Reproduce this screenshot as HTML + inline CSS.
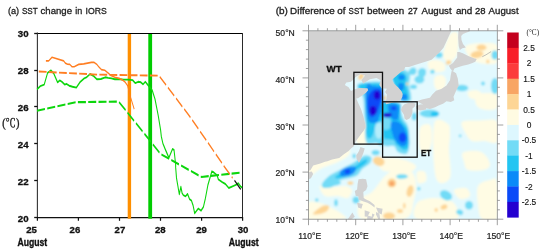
<!DOCTYPE html>
<html><head><meta charset="utf-8"><title>SST change</title>
<style>html,body{margin:0;padding:0;background:#fff;width:550px;height:252px;overflow:hidden}svg{display:block}</style>
</head><body>
<svg width="550" height="252" viewBox="0 0 550 252" font-family="Liberation Sans, Arial, sans-serif">
<defs>
<clipPath id="mapclip"><rect x="308.5" y="30.8" width="188.8" height="188.4"/></clipPath>
<filter id="bl" x="-5%" y="-5%" width="110%" height="110%"><feGaussianBlur stdDeviation="0.9"/></filter>
</defs>
<rect width="550" height="252" fill="#fff"/>
<text x="7.9" y="14.2" font-size="9.4" font-weight="normal" fill="#1c1c1c" stroke="#1c1c1c" stroke-width="0.3" textLength="11.2" lengthAdjust="spacingAndGlyphs">(a)</text><text x="21.9" y="14.2" font-size="9.4" font-weight="normal" fill="#1c1c1c" stroke="#1c1c1c" stroke-width="0.3" textLength="15.8" lengthAdjust="spacingAndGlyphs">SST</text><text x="40.5" y="14.2" font-size="9.4" font-weight="normal" fill="#1c1c1c" stroke="#1c1c1c" stroke-width="0.3" textLength="31.5" lengthAdjust="spacingAndGlyphs">change</text><text x="75.3" y="14.2" font-size="9.4" font-weight="normal" fill="#1c1c1c" stroke="#1c1c1c" stroke-width="0.3" textLength="7.0" lengthAdjust="spacingAndGlyphs">in</text><text x="85.6" y="14.2" font-size="9.4" font-weight="normal" fill="#1c1c1c" stroke="#1c1c1c" stroke-width="0.3" textLength="21.2" lengthAdjust="spacingAndGlyphs">IORS</text><line x1="37.4" y1="33.45" x2="243" y2="33.45" stroke="#000" stroke-width="1.1"/><line x1="242.5" y1="33" x2="242.5" y2="217.6" stroke="#2a2a2a" stroke-width="1"/><line x1="37.4" y1="32.5" x2="37.4" y2="217.6" stroke="#333" stroke-width="1.1"/><line x1="36.9" y1="217.6" x2="243.1" y2="217.6" stroke="#111" stroke-width="1.4"/><rect x="127.7" y="34" width="3.4" height="184.7" fill="#FF8F00"/><rect x="148.3" y="34" width="3.8" height="184.7" fill="#00CC00"/><g transform="scale(1,1.8)"><polyline points="37.00,61.500 75.90,56.778 118.70,56.444 160.80,85.667 201.50,98.333 240.60,95.889" fill="none" stroke="#0CD60C" stroke-width="1.2" stroke-dasharray="8 2.3"/><polyline points="37.00,49.611 40.30,47.889 44.20,47.000 47.60,40.500 50.90,39.111 53.70,40.778 57.60,45.722 59.80,44.667 62.00,45.444 64.80,47.000 66.40,46.556 69.20,47.611 72.60,48.222 76.40,48.667 80.30,45.444 84.20,43.556 86.40,42.944 90.10,41.111 93.70,42.333 97.00,44.056 100.90,43.889 105.30,42.944 108.10,43.278 111.40,43.556 114.80,44.000 118.10,43.889 123.70,44.222 128.10,44.222 132.60,44.500 135.30,46.167 138.10,45.444 140.90,45.722 143.10,46.833 145.30,45.444 147.60,47.000 150.30,48.833 152.20,50.111 155.00,55.056 157.20,61.222 158.30,64.444 160.60,72.222 161.30,75.722 162.90,79.722 165.30,83.000 168.50,87.167 168.90,87.611 172.50,82.778 174.00,83.222 174.80,87.167 175.60,91.333 175.70,93.278 176.50,98.889 177.70,102.833 179.30,107.944 180.90,103.722 182.10,107.278 183.30,108.389 185.60,109.056 187.60,107.722 189.50,110.611 191.50,111.500 193.10,114.167 194.70,118.500 198.30,115.833 201.00,117.056 203.40,115.000 205.40,110.167 206.60,106.667 207.90,102.778 211.90,95.167 213.90,95.833 217.10,97.389 218.30,99.611 222.20,101.167 225.40,102.222 228.80,104.444 233.10,103.389 236.40,102.611 238.30,101.778 240.70,103.667 242.10,104.167" fill="none" stroke="#0CD60C" stroke-width="1.05" stroke-linejoin="round"/><polyline points="37.00,39.667 97.00,41.444 158.90,42.056 168.30,48.889 189.40,64.444 206.10,77.778 224.40,92.611 232.60,98.889" fill="none" stroke="#FF7E22" stroke-width="1.05" stroke-dasharray="7.8 2.3" stroke-dashoffset="-1.8"/><polyline points="45.90,33.833 48.70,33.833 52.00,31.778 63.70,33.833 65.30,35.056 67.60,35.667 69.80,35.778 72.00,37.056 74.20,37.056 78.70,35.778 83.70,35.500 91.40,34.667 94.20,34.667 97.00,35.889 99.20,37.389 101.40,38.667 104.80,39.000 108.10,40.556 110.90,41.944 114.80,42.944 119.20,43.556 122.60,44.500 125.30,45.722 127.60,47.611 129.20,51.111 130.30,53.556 134.20,60.667" fill="none" stroke="#FF7E22" stroke-width="0.9" stroke-linejoin="round"/><line x1="234.5" y1="100.222" x2="240.7" y2="105.222" stroke="#111" stroke-width="1.0"/></g><line x1="34.2" y1="33.5" x2="37.4" y2="33.5" stroke="#111" stroke-width="1.3"/><text x="28.6" y="37.3" font-size="9.7" font-weight="bold" fill="#111" stroke="#111" stroke-width="0.3" text-anchor="end">30</text><line x1="34.2" y1="70.5" x2="37.4" y2="70.5" stroke="#111" stroke-width="1.3"/><text x="28.6" y="74.2" font-size="9.7" font-weight="bold" fill="#111" stroke="#111" stroke-width="0.3" text-anchor="end">28</text><line x1="34.2" y1="106.5" x2="37.4" y2="106.5" stroke="#111" stroke-width="1.3"/><text x="28.6" y="111.1" font-size="9.7" font-weight="bold" fill="#111" stroke="#111" stroke-width="0.3" text-anchor="end">26</text><line x1="34.2" y1="143.5" x2="37.4" y2="143.5" stroke="#111" stroke-width="1.3"/><text x="28.6" y="148.0" font-size="9.7" font-weight="bold" fill="#111" stroke="#111" stroke-width="0.3" text-anchor="end">24</text><line x1="34.2" y1="180.5" x2="37.4" y2="180.5" stroke="#111" stroke-width="1.3"/><text x="28.6" y="184.9" font-size="9.7" font-weight="bold" fill="#111" stroke="#111" stroke-width="0.3" text-anchor="end">22</text><line x1="34.2" y1="217.5" x2="37.4" y2="217.5" stroke="#111" stroke-width="1.3"/><text x="28.6" y="221.8" font-size="9.7" font-weight="bold" fill="#111" stroke="#111" stroke-width="0.3" text-anchor="end">20</text><line x1="37.4" y1="217.6" x2="37.4" y2="220.8" stroke="#111" stroke-width="1.2"/><text x="31.5" y="233.2" font-size="9.6" font-weight="bold" fill="#111" stroke="#111" stroke-width="0.3" text-anchor="middle">25</text><line x1="78.4" y1="217.6" x2="78.4" y2="220.8" stroke="#111" stroke-width="1.2"/><text x="74.9" y="233.2" font-size="9.6" font-weight="bold" fill="#111" stroke="#111" stroke-width="0.3" text-anchor="middle">26</text><line x1="119.5" y1="217.6" x2="119.5" y2="220.8" stroke="#111" stroke-width="1.2"/><text x="119.9" y="233.2" font-size="9.6" font-weight="bold" fill="#111" stroke="#111" stroke-width="0.3" text-anchor="middle">27</text><line x1="160.5" y1="217.6" x2="160.5" y2="220.8" stroke="#111" stroke-width="1.2"/><text x="160.3" y="233.2" font-size="9.6" font-weight="bold" fill="#111" stroke="#111" stroke-width="0.3" text-anchor="middle">28</text><line x1="201.6" y1="217.6" x2="201.6" y2="220.8" stroke="#111" stroke-width="1.2"/><text x="201.6" y="233.2" font-size="9.6" font-weight="bold" fill="#111" stroke="#111" stroke-width="0.3" text-anchor="middle">29</text><line x1="242.6" y1="217.6" x2="242.6" y2="220.8" stroke="#111" stroke-width="1.2"/><text x="243.1" y="233.2" font-size="9.6" font-weight="bold" fill="#111" stroke="#111" stroke-width="0.3" text-anchor="middle">30</text><text x="17.4" y="245.6" font-size="10.2" font-weight="bold" fill="#111" stroke="#111" stroke-width="0.35" textLength="29.8" lengthAdjust="spacingAndGlyphs">August</text><text x="228.8" y="245.6" font-size="10.2" font-weight="bold" fill="#111" stroke="#111" stroke-width="0.35" textLength="29.8" lengthAdjust="spacingAndGlyphs">August</text><text x="2.2" y="127.4" font-size="11.5" fill="#1a1a1a" stroke="#1a1a1a" stroke-width="0.35" font-family="Liberation Serif, Noto Serif CJK SC, serif" textLength="17.2" lengthAdjust="spacingAndGlyphs">(℃)</text>
<text x="275.7" y="13.9" font-size="9.4" font-weight="normal" fill="#1c1c1c" stroke="#1c1c1c" stroke-width="0.3" textLength="12.2" lengthAdjust="spacingAndGlyphs">(b)</text><text x="290.1" y="13.9" font-size="9.4" font-weight="normal" fill="#1c1c1c" stroke="#1c1c1c" stroke-width="0.3" textLength="44.7" lengthAdjust="spacingAndGlyphs">Difference</text><text x="337.3" y="13.9" font-size="9.4" font-weight="normal" fill="#1c1c1c" stroke="#1c1c1c" stroke-width="0.3" textLength="8.2" lengthAdjust="spacingAndGlyphs">of</text><text x="348.6" y="13.9" font-size="9.4" font-weight="normal" fill="#1c1c1c" stroke="#1c1c1c" stroke-width="0.3" textLength="15.5" lengthAdjust="spacingAndGlyphs">SST</text><text x="367.0" y="13.9" font-size="9.4" font-weight="normal" fill="#1c1c1c" stroke="#1c1c1c" stroke-width="0.3" textLength="37.1" lengthAdjust="spacingAndGlyphs">between</text><text x="407.9" y="13.9" font-size="9.4" font-weight="normal" fill="#1c1c1c" stroke="#1c1c1c" stroke-width="0.3" textLength="9.8" lengthAdjust="spacingAndGlyphs">27</text><text x="421.5" y="13.9" font-size="9.4" font-weight="normal" fill="#1c1c1c" stroke="#1c1c1c" stroke-width="0.3" textLength="30.1" lengthAdjust="spacingAndGlyphs">August</text><text x="455.9" y="13.9" font-size="9.4" font-weight="normal" fill="#1c1c1c" stroke="#1c1c1c" stroke-width="0.3" textLength="16.4" lengthAdjust="spacingAndGlyphs">and</text><text x="475.0" y="13.9" font-size="9.4" font-weight="normal" fill="#1c1c1c" stroke="#1c1c1c" stroke-width="0.3" textLength="10.6" lengthAdjust="spacingAndGlyphs">28</text><text x="488.6" y="13.9" font-size="9.4" font-weight="normal" fill="#1c1c1c" stroke="#1c1c1c" stroke-width="0.3" textLength="30.0" lengthAdjust="spacingAndGlyphs">August</text><g clip-path="url(#mapclip)"><rect x="308.5" y="30.8" width="188.8" height="188.39999999999998" fill="#FFFBE3"/><g filter="url(#bl)"><rect x="300" y="25" width="205" height="200" fill="#E3F9FE"/><path d="M449.0,36.0C450.3,33.7 451.5,32.3 453.0,32.0C454.5,31.7 457.2,31.0 458.0,34.0C458.8,37.0 458.5,46.0 458.0,50.0C457.5,54.0 456.7,56.0 455.0,58.0C453.3,60.0 450.0,62.3 448.0,62.0C446.0,61.7 443.5,58.7 443.0,56.0C442.5,53.3 444.0,49.3 445.0,46.0C446.0,42.7 447.7,38.3 449.0,36.0Z" fill="#FFFCE4"/><path d="M466.0,46.0C468.2,44.2 474.8,43.2 480.0,43.0C485.2,42.8 494.2,41.8 497.0,45.0C499.8,48.2 499.0,58.8 497.0,62.0C495.0,65.2 489.2,64.3 485.0,64.0C480.8,63.7 475.0,61.7 472.0,60.0C469.0,58.3 468.0,56.3 467.0,54.0C466.0,51.7 463.8,47.8 466.0,46.0Z" fill="#FFFCE4"/><path d="M468.0,92.0C469.0,90.7 473.7,89.7 476.0,90.0C478.3,90.3 481.7,92.5 482.0,94.0C482.3,95.5 480.0,98.3 478.0,99.0C476.0,99.7 471.7,99.2 470.0,98.0C468.3,96.8 467.0,93.3 468.0,92.0Z" fill="#FFFCE4"/><path d="M428.0,62.0C429.0,60.3 433.3,59.8 436.0,60.0C438.7,60.2 442.5,61.3 444.0,63.0C445.5,64.7 446.0,68.5 445.0,70.0C444.0,71.5 440.5,72.0 438.0,72.0C435.5,72.0 431.7,71.7 430.0,70.0C428.3,68.3 427.0,63.7 428.0,62.0Z" fill="#FFFCE4"/><path d="M435.0,77.0C436.3,75.5 440.2,74.5 442.0,75.0C443.8,75.5 445.7,77.7 446.0,80.0C446.3,82.3 445.5,87.3 444.0,89.0C442.5,90.7 438.7,90.8 437.0,90.0C435.3,89.2 434.3,86.2 434.0,84.0C433.7,81.8 433.7,78.5 435.0,77.0Z" fill="#FFFCE4"/><path d="M476.0,95.0C478.2,92.8 486.5,93.0 490.0,93.0C493.5,93.0 495.8,92.5 497.0,95.0C498.2,97.5 498.8,105.5 497.0,108.0C495.2,110.5 489.3,110.3 486.0,110.0C482.7,109.7 478.7,108.5 477.0,106.0C475.3,103.5 473.8,97.2 476.0,95.0Z" fill="#FFFCE4"/><path d="M462.0,122.0C464.3,119.8 474.2,120.6 480.0,120.5C485.8,120.4 494.2,117.9 497.0,121.5C499.8,125.1 499.0,138.8 497.0,142.0C495.0,145.2 489.2,141.2 485.0,141.0C480.8,140.8 475.2,142.2 472.0,141.0C468.8,139.8 467.7,137.2 466.0,134.0C464.3,130.8 459.7,124.2 462.0,122.0Z" fill="#FFFCE4"/><path d="M434.0,124.0C436.0,115.0 445.3,122.2 448.0,124.0C450.7,125.8 449.8,130.7 450.0,135.0C450.2,139.3 449.0,142.8 449.0,150.0C449.0,157.2 452.2,173.3 450.0,178.0C447.8,182.7 438.7,187.0 436.0,178.0C433.3,169.0 432.0,133.0 434.0,124.0Z" fill="#FFFCE4"/><path d="M463.0,152.5C465.3,150.7 474.2,150.4 478.0,151.0C481.8,151.6 484.0,153.7 486.0,156.0C488.0,158.3 490.3,162.7 490.0,165.0C489.7,167.3 487.7,169.2 484.0,170.0C480.3,170.8 471.3,171.3 468.0,170.0C464.7,168.7 464.8,164.9 464.0,162.0C463.2,159.1 460.7,154.3 463.0,152.5Z" fill="#FFFCE4"/><path d="M417.0,203.0C419.5,199.5 426.8,198.5 432.0,198.0C437.2,197.5 444.0,198.7 448.0,200.0C452.0,201.3 454.7,202.8 456.0,206.0C457.3,209.2 462.5,216.8 456.0,219.0C449.5,221.2 423.5,221.7 417.0,219.0C410.5,216.3 414.5,206.5 417.0,203.0Z" fill="#FFFCE4"/><path d="M478.0,186.0C480.0,181.8 486.8,180.7 490.0,180.0C493.2,179.3 495.8,175.5 497.0,182.0C498.2,188.5 499.5,212.8 497.0,219.0C494.5,225.2 485.2,221.3 482.0,219.0C478.8,216.7 478.7,210.5 478.0,205.0C477.3,199.5 476.0,190.2 478.0,186.0Z" fill="#FFFCE4"/><path d="M454.0,190.0C455.0,188.2 463.3,187.0 466.0,188.0C468.7,189.0 471.0,194.2 470.0,196.0C469.0,197.8 462.7,200.0 460.0,199.0C457.3,198.0 453.0,191.8 454.0,190.0Z" fill="#FFFCE4"/><path d="M417.0,172.0C418.2,170.2 423.5,170.5 425.0,172.0C426.5,173.5 427.2,179.2 426.0,181.0C424.8,182.8 419.5,184.5 418.0,183.0C416.5,181.5 415.8,173.8 417.0,172.0Z" fill="#FFFCE4"/><path d="M308.0,160.0C310.8,156.7 319.2,157.7 325.0,156.0C330.8,154.3 338.8,151.0 343.0,150.0C347.2,149.0 349.2,149.0 350.0,150.0C350.8,151.0 350.3,153.8 348.0,156.0C345.7,158.2 340.3,161.0 336.0,163.0C331.7,165.0 326.0,166.0 322.0,168.0C318.0,170.0 314.3,173.7 312.0,175.0C309.7,176.3 308.7,178.5 308.0,176.0C307.3,173.5 305.2,163.3 308.0,160.0Z" fill="#FFFCE4"/><path d="M360.0,200.0C361.7,195.5 367.8,196.0 372.0,192.0C376.2,188.0 380.8,180.0 385.0,176.0C389.2,172.0 392.8,169.0 397.0,168.0C401.2,167.0 406.8,167.7 410.0,170.0C413.2,172.3 415.3,177.0 416.0,182.0C416.7,187.0 415.8,193.8 414.0,200.0C412.2,206.2 413.7,215.8 405.0,219.0C396.3,222.2 369.5,222.2 362.0,219.0C354.5,215.8 358.3,204.5 360.0,200.0Z" fill="#FFFCE4"/><path d="M378.0,160.0C379.7,158.0 387.5,158.0 392.0,158.0C396.5,158.0 401.0,158.7 405.0,160.0C409.0,161.3 415.2,164.0 416.0,166.0C416.8,168.0 413.5,171.0 410.0,172.0C406.5,173.0 399.7,172.3 395.0,172.0C390.3,171.7 384.8,172.0 382.0,170.0C379.2,168.0 376.3,162.0 378.0,160.0Z" fill="#FFFCE4"/><path d="M320.0,186.0C321.5,184.5 329.8,187.0 334.0,187.0C338.2,187.0 342.0,185.5 345.0,186.0C348.0,186.5 351.5,188.0 352.0,190.0C352.5,192.0 350.3,197.0 348.0,198.0C345.7,199.0 341.8,196.3 338.0,196.0C334.2,195.7 328.0,197.7 325.0,196.0C322.0,194.3 318.5,187.5 320.0,186.0Z" fill="#FFFCE4"/><path d="M308.0,203.0C310.0,200.3 316.0,202.2 320.0,203.0C324.0,203.8 328.3,206.2 332.0,208.0C335.7,209.8 340.0,212.2 342.0,214.0C344.0,215.8 349.7,218.2 344.0,219.0C338.3,219.8 314.0,221.7 308.0,219.0C302.0,216.3 306.0,205.7 308.0,203.0Z" fill="#FFFCE4"/><path d="M357.0,125.0C358.5,122.0 363.2,120.8 365.0,122.0C366.8,123.2 367.7,128.5 368.0,132.0C368.3,135.5 368.3,140.8 367.0,143.0C365.7,145.2 361.8,145.5 360.0,145.0C358.2,144.5 356.5,143.3 356.0,140.0C355.5,136.7 355.5,128.0 357.0,125.0Z" fill="#FFFCE4"/><path d="M420.0,128.0C421.7,123.8 428.0,123.0 430.0,125.0C432.0,127.0 432.3,135.5 432.0,140.0C431.7,144.5 430.0,150.3 428.0,152.0C426.0,153.7 421.3,154.0 420.0,150.0C418.7,146.0 418.3,132.2 420.0,128.0Z" fill="#FFFCE4"/><ellipse cx="481.5" cy="47.5" rx="5" ry="3" fill="#FDD595"/><ellipse cx="477" cy="54.5" rx="6.5" ry="3.5" fill="#FDD595" transform="rotate(-10 477 54.5)"/><ellipse cx="448.8" cy="62.3" rx="2.5" ry="2" fill="#FDD595"/><ellipse cx="487.8" cy="61.5" rx="1.5" ry="2" fill="#FDD595"/><ellipse cx="361" cy="76.7" rx="2.5" ry="3.5" fill="#FDD595" transform="rotate(30 361 76.7)"/><ellipse cx="384.7" cy="98" rx="1.6" ry="2.4" fill="#FDD595"/><ellipse cx="407.8" cy="84.8" rx="1.3" ry="1.3" fill="#FDD595"/><ellipse cx="378.7" cy="161.3" rx="6" ry="4.5" fill="#FDD595" transform="rotate(20 378.7 161.3)"/><ellipse cx="391.8" cy="183.1" rx="4.5" ry="4.5" fill="#FDD595"/><ellipse cx="350.4" cy="183.1" rx="3" ry="1.8" fill="#FDD595"/><ellipse cx="389" cy="216" rx="6" ry="3.5" fill="#FDD595"/><ellipse cx="400" cy="211" rx="3" ry="2" fill="#FDD595"/><ellipse cx="410" cy="191" rx="3.2" ry="6" fill="#FDD595" transform="rotate(15 410 191)"/><ellipse cx="444" cy="207" rx="3.5" ry="2.5" fill="#FDD595" transform="rotate(-20 444 207)"/><ellipse cx="436.2" cy="210" rx="1.7" ry="2" fill="#FDD595"/><ellipse cx="404.3" cy="205.8" rx="1.3" ry="3" fill="#FDD595"/><path d="M313.0,214.0C312.7,213.2 316.2,210.4 318.0,209.0C319.8,207.6 322.2,206.0 324.0,205.5C325.8,205.0 328.5,205.1 329.0,206.0C329.5,206.9 328.5,209.7 327.0,211.0C325.5,212.3 322.3,213.5 320.0,214.0C317.7,214.5 313.3,214.8 313.0,214.0Z" fill="#FDD595"/><ellipse cx="391.8" cy="183.5" rx="2.6" ry="2.6" fill="#F8A564"/><ellipse cx="439" cy="55" rx="3.8" ry="2.8" fill="#72DBF6"/><ellipse cx="412" cy="72" rx="3.5" ry="3" fill="#72DBF6"/><ellipse cx="422.5" cy="71.5" rx="3.5" ry="3" fill="#72DBF6"/><ellipse cx="432.6" cy="71.5" rx="2" ry="2" fill="#72DBF6"/><ellipse cx="495" cy="55" rx="3.5" ry="4.5" fill="#72DBF6"/><ellipse cx="462" cy="88" rx="6.3" ry="3.2" fill="#72DBF6"/><ellipse cx="483" cy="83.6" rx="2" ry="2" fill="#72DBF6"/><ellipse cx="495" cy="86" rx="4" ry="8" fill="#72DBF6"/><ellipse cx="429.5" cy="113.5" rx="10" ry="4" fill="#72DBF6"/><ellipse cx="354.2" cy="156" rx="1.8" ry="2.6" fill="#72DBF6"/><ellipse cx="375.6" cy="152.6" rx="4" ry="2.6" fill="#72DBF6"/><ellipse cx="400" cy="176.6" rx="3" ry="2.2" fill="#72DBF6"/><ellipse cx="332.5" cy="182.6" rx="8.5" ry="3" fill="#72DBF6"/><ellipse cx="356" cy="200" rx="3.5" ry="3.5" fill="#72DBF6"/><ellipse cx="336" cy="202.7" rx="1.8" ry="3.5" fill="#72DBF6"/><ellipse cx="316.8" cy="200" rx="1.7" ry="1.7" fill="#72DBF6"/><ellipse cx="446" cy="195.3" rx="6.5" ry="4.5" fill="#72DBF6" transform="rotate(30 446 195.3)"/><ellipse cx="469" cy="205.3" rx="4" ry="4.3" fill="#72DBF6"/><ellipse cx="459.7" cy="212.3" rx="3.5" ry="2.6" fill="#72DBF6" transform="rotate(20 459.7 212.3)"/><ellipse cx="418.8" cy="188.8" rx="1.7" ry="1.7" fill="#72DBF6"/><ellipse cx="404.7" cy="176.2" rx="1.7" ry="1.7" fill="#72DBF6"/><ellipse cx="460.1" cy="135.9" rx="1.4" ry="1.4" fill="#72DBF6"/><ellipse cx="434.7" cy="114" rx="4" ry="2.6" fill="#22C5F2"/><path d="M322.0,184.0C322.8,182.0 326.3,178.2 329.0,176.0C331.7,173.8 335.3,172.5 338.0,171.0C340.7,169.5 342.5,168.3 345.0,167.0C347.5,165.7 350.7,164.3 353.0,163.0C355.3,161.7 357.0,160.2 359.0,159.0C361.0,157.8 363.0,155.8 365.0,155.5C367.0,155.2 370.2,155.8 371.0,157.0C371.8,158.2 371.5,161.0 370.0,163.0C368.5,165.0 364.2,166.9 362.0,169.0C359.8,171.1 359.5,173.9 357.0,175.5C354.5,177.1 350.2,177.6 347.0,178.5C343.8,179.4 340.3,179.7 338.0,181.0C335.7,182.3 335.3,185.3 333.0,186.5C330.7,187.7 325.8,188.4 324.0,188.0C322.2,187.6 321.2,186.0 322.0,184.0Z" fill="#72DBF6"/><path d="M335.0,177.0C335.8,175.8 341.7,172.8 345.0,171.0C348.3,169.2 352.2,167.7 355.0,166.0C357.8,164.3 360.0,162.2 362.0,161.0C364.0,159.8 366.3,158.7 367.0,159.0C367.7,159.3 367.5,161.3 366.0,163.0C364.5,164.7 360.7,167.2 358.0,169.0C355.3,170.8 353.0,172.5 350.0,174.0C347.0,175.5 342.5,177.5 340.0,178.0C337.5,178.5 334.2,178.2 335.0,177.0Z" fill="#22C5F2"/><path d="M340.0,172.0C340.7,170.7 343.0,168.9 345.0,168.0C347.0,167.1 350.2,166.5 352.0,166.5C353.8,166.5 355.7,166.9 356.0,168.0C356.3,169.1 355.3,171.7 354.0,173.0C352.7,174.3 350.2,175.5 348.0,176.0C345.8,176.5 342.3,176.7 341.0,176.0C339.7,175.3 339.3,173.3 340.0,172.0Z" fill="#0A8AF8"/><ellipse cx="347.5" cy="171.5" rx="3" ry="2.2" fill="#0A4AF8" transform="rotate(-20 347.5 171.5)"/><ellipse cx="402" cy="176.5" rx="6" ry="2.2" fill="#72DBF6"/><path d="M392.0,73.0C393.0,71.3 395.8,70.5 398.0,70.0C400.2,69.5 403.0,69.2 405.0,70.0C407.0,70.8 409.3,72.5 410.0,75.0C410.7,77.5 408.8,81.7 409.0,85.0C409.2,88.3 410.8,92.3 411.0,95.0C411.2,97.7 411.8,100.0 410.0,101.0C408.2,102.0 402.3,102.8 400.0,101.0C397.7,99.2 397.3,93.5 396.0,90.0C394.7,86.5 392.7,82.8 392.0,80.0C391.3,77.2 391.0,74.7 392.0,73.0Z" fill="#72DBF6"/><path d="M392.5,75.0C393.3,73.5 396.1,72.3 398.0,72.0C399.9,71.7 402.5,72.0 404.0,73.0C405.5,74.0 406.7,76.2 407.0,78.0C407.3,79.8 405.8,81.7 406.0,84.0C406.2,86.3 407.6,89.3 408.0,92.0C408.4,94.7 409.5,98.7 408.5,100.0C407.5,101.3 403.6,101.0 402.0,100.0C400.4,99.0 400.0,96.0 399.0,94.0C398.0,92.0 397.0,90.2 396.0,88.0C395.0,85.8 393.6,83.2 393.0,81.0C392.4,78.8 391.7,76.5 392.5,75.0Z" fill="#22C5F2"/><ellipse cx="401.5" cy="77.3" rx="3.2" ry="2.8" fill="#0A8AF8"/><ellipse cx="401" cy="86.7" rx="2.8" ry="4" fill="#0A8AF8"/><ellipse cx="403.8" cy="97" rx="3.5" ry="3.2" fill="#0A8AF8"/><ellipse cx="413.2" cy="71" rx="3.2" ry="3.5" fill="#72DBF6"/><ellipse cx="422" cy="72.8" rx="4" ry="4.5" fill="#72DBF6"/><ellipse cx="419.4" cy="79.5" rx="5" ry="4" fill="#72DBF6"/><ellipse cx="413.5" cy="86.8" rx="3.5" ry="2.3" fill="#72DBF6"/><ellipse cx="432.2" cy="72" rx="1.8" ry="1.8" fill="#72DBF6"/><ellipse cx="439" cy="56.3" rx="2.3" ry="1.5" fill="#72DBF6"/><ellipse cx="407.3" cy="84" rx="1.2" ry="1.4" fill="#FDD595"/><ellipse cx="448" cy="63" rx="2.3" ry="1.8" fill="#FDD595"/><path d="M357.0,86.0C357.0,84.8 358.0,84.1 359.0,83.5C360.0,82.9 361.5,82.8 363.0,82.5C364.5,82.2 366.0,82.2 368.0,82.0C370.0,81.8 373.0,81.5 375.0,81.5C377.0,81.5 379.0,81.6 380.2,82.0C381.4,82.4 381.9,74.2 382.4,84.0C382.9,93.8 384.1,131.2 383.0,141.0C381.9,150.8 378.7,142.7 376.0,143.0C373.3,143.3 368.8,144.7 367.0,143.0C365.2,141.3 365.2,135.8 365.0,133.0C364.8,130.2 365.6,128.5 365.5,126.0C365.4,123.5 364.8,121.0 364.5,118.0C364.2,115.0 364.2,111.0 364.0,108.0C363.8,105.0 363.8,102.2 363.5,100.0C363.2,97.8 362.8,96.5 362.0,95.0C361.2,93.5 359.8,92.5 359.0,91.0C358.2,89.5 357.0,87.2 357.0,86.0Z" fill="#72DBF6"/><path d="M375.5,123.0C376.3,121.3 378.9,120.5 380.0,121.0C381.1,121.5 381.8,123.3 382.0,126.0C382.2,128.7 382.3,135.0 381.5,137.0C380.7,139.0 378.1,139.0 377.0,138.0C375.9,137.0 375.2,133.5 375.0,131.0C374.8,128.5 374.7,124.7 375.5,123.0Z" fill="#B5EDFB"/><path d="M358.0,86.5C358.0,85.6 360.5,84.5 362.0,84.0C363.5,83.5 365.3,83.6 367.0,83.5C368.7,83.4 369.8,83.4 372.0,83.5C374.2,83.6 378.2,82.9 380.0,84.0C381.8,85.1 382.5,84.3 383.0,90.0C383.5,95.7 383.5,112.7 383.0,118.0C382.5,123.3 381.2,121.0 380.0,122.0C378.8,123.0 377.0,122.3 376.0,124.0C375.0,125.7 374.8,129.7 374.0,132.0C373.2,134.3 372.2,137.2 371.0,138.0C369.8,138.8 367.8,138.7 367.0,137.0C366.2,135.3 366.2,131.2 366.0,128.0C365.8,124.8 366.1,121.3 366.0,118.0C365.9,114.7 365.6,111.2 365.5,108.0C365.4,104.8 365.4,101.5 365.5,99.0C365.6,96.5 366.6,94.6 366.0,93.0C365.4,91.4 363.3,90.6 362.0,89.5C360.7,88.4 358.0,87.4 358.0,86.5Z" fill="#22C5F2"/><path d="M365.5,89.0C366.3,86.0 369.1,86.4 371.0,86.0C372.9,85.6 375.1,86.0 377.0,86.5C378.9,87.0 381.5,85.4 382.4,89.0C383.3,92.6 382.9,103.5 382.4,108.0C381.9,112.5 380.4,113.7 379.5,116.0C378.6,118.3 378.6,120.9 377.0,122.0C375.4,123.1 371.7,123.5 370.0,122.5C368.3,121.5 367.7,119.1 367.0,116.0C366.3,112.9 366.2,108.5 366.0,104.0C365.8,99.5 364.7,92.0 365.5,89.0Z" fill="#0A8AF8"/><ellipse cx="368.8" cy="85.1" rx="2.2" ry="1.5" fill="#0A8AF8"/><path d="M368.0,97.0C368.8,93.7 371.0,91.2 373.0,90.0C375.0,88.8 378.5,88.5 380.0,89.5C381.5,90.5 382.0,93.6 382.0,96.0C382.0,98.4 381.0,101.0 380.0,104.0C379.0,107.0 377.5,111.8 376.0,114.0C374.5,116.2 372.3,117.7 371.0,117.0C369.7,116.3 368.5,113.3 368.0,110.0C367.5,106.7 367.2,100.3 368.0,97.0Z" fill="#0A4AF8"/><ellipse cx="377" cy="95.2" rx="3.2" ry="4.2" fill="#2400D0"/><ellipse cx="373" cy="110.5" rx="3.5" ry="4.5" fill="#2400D0"/><path d="M383.0,103.0C385.1,101.8 392.2,102.3 395.0,102.5C397.8,102.7 399.0,102.4 400.0,104.0C401.0,105.6 400.3,109.3 401.0,112.0C401.7,114.7 403.0,118.0 404.0,120.0C405.0,122.0 406.2,122.0 407.0,124.0C407.8,126.0 408.7,128.0 409.0,132.0C409.3,136.0 409.5,144.3 409.0,148.0C408.5,151.7 407.8,153.3 406.0,154.0C404.2,154.7 400.0,153.3 398.0,152.0C396.0,150.7 396.0,147.0 394.0,146.0C392.0,145.0 387.9,146.7 386.0,146.0C384.1,145.3 383.2,148.0 382.6,142.0C382.0,136.0 382.5,116.5 382.6,110.0C382.7,103.5 380.9,104.2 383.0,103.0Z" fill="#72DBF6"/><path d="M383.0,103.0C385.7,99.3 396.0,101.8 399.0,103.0C402.0,104.2 400.8,107.5 401.0,110.0C401.2,112.5 399.5,115.7 400.0,118.0C400.5,120.3 402.7,122.0 404.0,124.0C405.3,126.0 407.2,126.3 408.0,130.0C408.8,133.7 409.7,142.7 409.0,146.0C408.3,149.3 405.8,150.0 404.0,150.0C402.2,150.0 400.3,147.7 398.0,146.0C395.7,144.3 392.3,141.3 390.0,140.0C387.7,138.7 385.2,140.5 384.0,138.0C382.8,135.5 383.2,130.8 383.0,125.0C382.8,119.2 380.3,106.7 383.0,103.0Z" fill="#22C5F2"/><path d="M383.0,118.0C383.8,116.4 386.7,117.0 388.0,117.5C389.3,118.0 390.7,119.2 391.0,121.0C391.3,122.8 391.0,126.5 390.0,128.0C389.0,129.5 386.2,130.2 385.0,130.0C383.8,129.8 383.3,129.0 383.0,127.0C382.7,125.0 382.2,119.6 383.0,118.0Z" fill="#72DBF6"/><path d="M388.5,104.5C389.8,103.7 394.2,103.4 396.0,104.0C397.8,104.6 398.6,106.5 399.0,108.0C399.4,109.5 398.7,111.2 398.5,113.0C398.3,114.8 398.9,117.9 398.0,119.0C397.1,120.1 394.3,120.3 393.0,119.5C391.7,118.7 390.8,115.8 390.0,114.0C389.2,112.2 388.2,110.6 388.0,109.0C387.8,107.4 387.2,105.3 388.5,104.5Z" fill="#0A8AF8"/><ellipse cx="393.7" cy="108.3" rx="2.6" ry="2" fill="#0A4AF8"/><ellipse cx="387.3" cy="115" rx="4.3" ry="2.3" fill="#2400D0"/><path d="M391.0,123.0C391.8,121.2 395.2,121.2 397.0,121.5C398.8,121.8 400.6,123.4 402.0,125.0C403.4,126.6 404.6,128.8 405.5,131.0C406.4,133.2 407.4,135.7 407.5,138.0C407.6,140.3 407.1,143.7 406.0,145.0C404.9,146.3 402.8,146.8 401.0,146.0C399.2,145.2 396.5,142.3 395.0,140.0C393.5,137.7 392.7,134.8 392.0,132.0C391.3,129.2 390.2,124.8 391.0,123.0Z" fill="#0A8AF8"/><ellipse cx="402.5" cy="137.5" rx="3.8" ry="5" fill="#0A4AF8"/><path d="M383.5,140.0C385.1,139.3 391.1,139.3 393.0,140.0C394.9,140.7 396.0,143.2 395.0,144.0C394.0,144.8 388.9,145.0 387.0,145.0C385.1,145.0 384.1,144.8 383.5,144.0C382.9,143.2 381.9,140.7 383.5,140.0Z" fill="#72DBF6"/><ellipse cx="414.3" cy="116.5" rx="2.6" ry="4" fill="#72DBF6"/></g><polygon points="308.5,30.8 452.0,29.4 448.0,38.0 443.5,47.8 439.0,53.0 431.6,59.8 423.0,62.5 415.7,64.7 409.0,67.0 405.3,67.1 403.8,70.7 401.5,71.5 396.4,76.0 392.0,79.8 393.9,83.6 398.3,87.4 401.5,91.2 402.7,94.0 402.4,96.7 400.5,100.6 398.2,101.0 393.5,102.4 386.4,104.3 385.4,102.9 386.4,99.1 386.9,94.4 385.0,92.0 386.9,88.7 381.7,88.3 379.3,85.0 380.7,80.3 376.5,77.9 369.9,79.3 363.3,83.6 361.4,80.3 365.1,75.5 360.4,74.1 355.7,77.0 351.0,81.7 346.3,82.6 344.8,85.0 348.6,87.3 351.0,91.1 354.8,89.2 359.0,88.0 367.5,88.3 368.2,90.3 366.0,92.7 361.8,95.8 358.0,98.3 356.2,98.6 358.8,104.2 361.0,109.0 363.5,116.8 365.0,123.0 365.8,127.0 363.5,131.0 361.7,133.3 356.7,140.0 355.7,141.5 353.8,146.2 351.0,148.6 348.6,150.9 343.9,154.2 339.2,158.0 332.1,159.4 327.4,161.3 325.0,161.7 320.3,163.6 313.2,165.5 310.4,170.2 308.5,170.7" fill="#D2D2D2"/><polygon points="360.4,147.1 364.7,148.6 363.3,153.3 360.4,160.3 359.0,162.7 356.6,158.9 356.2,155.6 359.0,150.9" fill="#D2D2D2"/><polygon points="308.5,171.9 311.8,171.6 313.2,174.0 310.9,178.2 308.5,179.6" fill="#D2D2D2"/><polygon points="358.5,179.2 362.8,178.7 366.1,179.2 367.5,186.2 366.1,190.0 363.3,191.9 363.7,198.0 366.1,199.4 369.9,201.3 374.6,205.1 374.6,207.4 371.3,205.1 367.5,202.7 362.8,201.3 358.5,199.4 358.5,196.6 355.7,195.7 354.8,190.9 357.1,189.5 357.6,183.9" fill="#D2D2D2"/><polygon points="357.1,202.7 362.8,204.1 361.4,208.8 358.1,207.4" fill="#D2D2D2"/><polygon points="376.0,207.4 382.6,208.8 381.7,214.5 378.4,213.1" fill="#D2D2D2"/><polygon points="364.7,210.3 369.9,212.1 367.5,216.8 364.7,216.4" fill="#D2D2D2"/><polygon points="367.5,215.4 372.2,216.8 370.8,223.4 367.0,220.1" fill="#D2D2D2"/><polygon points="372.2,213.5 374.6,214.5 371.3,221.1" fill="#D2D2D2"/><polygon points="376.0,212.1 379.3,213.5 380.2,218.7 378.4,219.2 376.0,214.5" fill="#D2D2D2"/><polygon points="352.4,212.6 354.8,216.8 348.6,221.6 347.2,220.1" fill="#D2D2D2"/><polygon points="458.5,29.0 469.8,29.0 469.6,31.5 466.0,32.8 463.0,34.0 461.2,36.0 461.5,40.0 463.0,44.0 465.8,47.6 462.3,48.2 459.9,50.0 458.7,45.9 458.1,37.5" fill="#D2D2D2"/><polygon points="457.2,51.9 459.3,51.9 462.8,53.3 468.3,56.1 473.9,58.2 476.7,58.9 475.3,61.7 472.5,63.0 468.3,64.4 462.8,65.8 457.9,67.2 454.4,68.6 453.0,71.4 450.3,68.6 448.9,65.8 453.0,63.0 457.2,57.5" fill="#D2D2D2"/><polygon points="451.7,70.6 456.1,73.2 457.8,78.5 458.7,85.5 456.1,90.7 453.5,96.8 454.3,100.3 450.8,102.1 446.5,101.2 443.0,103.8 438.6,105.6 435.1,107.3 429.9,109.1 425.5,107.9 422.0,104.0 416.7,101.2 422.0,99.5 429.9,97.7 432.5,94.2 436.0,90.7 441.2,89.0 446.5,85.5 450.0,80.2 450.8,75.0" fill="#D2D2D2"/><polygon points="416.0,106.0 421.0,104.3 426.5,105.5 426.0,109.5 420.0,110.5 416.5,109.0" fill="#D2D2D2"/><polygon points="404.0,104.5 408.0,103.0 412.0,102.6 415.5,103.5 414.8,106.5 412.5,108.5 412.5,112.0 411.5,115.5 409.5,118.5 406.5,120.0 404.5,118.5 404.0,115.0 402.5,112.5 401.0,110.0 402.0,107.0" fill="#D2D2D2"/><polyline points="482.3,56.7 486,54.8 491.1,51.6" fill="none" stroke="#A8A8A8" stroke-width="0.7"/></g><rect x="353.9" y="72.3" width="28.6" height="71.8" fill="none" stroke="#111" stroke-width="1.3"/><rect x="382.6" y="101.8" width="34.6" height="55.4" fill="none" stroke="#111" stroke-width="1.3"/><text x="326.6" y="72.1" font-size="9.3" font-weight="bold" fill="#111" stroke="#111" stroke-width="0.3" textLength="15.2" lengthAdjust="spacingAndGlyphs">WT</text><text x="420.9" y="155.8" font-size="8.8" font-weight="bold" fill="#111" stroke="#111" stroke-width="0.3" textLength="10.3" lengthAdjust="spacingAndGlyphs">ET</text><rect x="308.5" y="30.8" width="188.8" height="188.4" fill="none" stroke="#888" stroke-width="0.8"/><line x1="302.5" y1="219.2" x2="308.5" y2="219.2" stroke="#888" stroke-width="0.8"/><line x1="497.3" y1="219.2" x2="503.3" y2="219.2" stroke="#888" stroke-width="0.8"/><line x1="305.9" y1="209.8" x2="308.5" y2="209.8" stroke="#888" stroke-width="0.8"/><line x1="497.3" y1="209.8" x2="499.9" y2="209.8" stroke="#888" stroke-width="0.8"/><line x1="305.9" y1="200.4" x2="308.5" y2="200.4" stroke="#888" stroke-width="0.8"/><line x1="497.3" y1="200.4" x2="499.9" y2="200.4" stroke="#888" stroke-width="0.8"/><line x1="305.9" y1="190.9" x2="308.5" y2="190.9" stroke="#888" stroke-width="0.8"/><line x1="497.3" y1="190.9" x2="499.9" y2="190.9" stroke="#888" stroke-width="0.8"/><line x1="305.9" y1="181.5" x2="308.5" y2="181.5" stroke="#888" stroke-width="0.8"/><line x1="497.3" y1="181.5" x2="499.9" y2="181.5" stroke="#888" stroke-width="0.8"/><line x1="302.5" y1="172.1" x2="308.5" y2="172.1" stroke="#888" stroke-width="0.8"/><line x1="497.3" y1="172.1" x2="503.3" y2="172.1" stroke="#888" stroke-width="0.8"/><line x1="305.9" y1="162.7" x2="308.5" y2="162.7" stroke="#888" stroke-width="0.8"/><line x1="497.3" y1="162.7" x2="499.9" y2="162.7" stroke="#888" stroke-width="0.8"/><line x1="305.9" y1="153.3" x2="308.5" y2="153.3" stroke="#888" stroke-width="0.8"/><line x1="497.3" y1="153.3" x2="499.9" y2="153.3" stroke="#888" stroke-width="0.8"/><line x1="305.9" y1="143.8" x2="308.5" y2="143.8" stroke="#888" stroke-width="0.8"/><line x1="497.3" y1="143.8" x2="499.9" y2="143.8" stroke="#888" stroke-width="0.8"/><line x1="305.9" y1="134.4" x2="308.5" y2="134.4" stroke="#888" stroke-width="0.8"/><line x1="497.3" y1="134.4" x2="499.9" y2="134.4" stroke="#888" stroke-width="0.8"/><line x1="302.5" y1="125.0" x2="308.5" y2="125.0" stroke="#888" stroke-width="0.8"/><line x1="497.3" y1="125.0" x2="503.3" y2="125.0" stroke="#888" stroke-width="0.8"/><line x1="305.9" y1="115.6" x2="308.5" y2="115.6" stroke="#888" stroke-width="0.8"/><line x1="497.3" y1="115.6" x2="499.9" y2="115.6" stroke="#888" stroke-width="0.8"/><line x1="305.9" y1="106.2" x2="308.5" y2="106.2" stroke="#888" stroke-width="0.8"/><line x1="497.3" y1="106.2" x2="499.9" y2="106.2" stroke="#888" stroke-width="0.8"/><line x1="305.9" y1="96.7" x2="308.5" y2="96.7" stroke="#888" stroke-width="0.8"/><line x1="497.3" y1="96.7" x2="499.9" y2="96.7" stroke="#888" stroke-width="0.8"/><line x1="305.9" y1="87.3" x2="308.5" y2="87.3" stroke="#888" stroke-width="0.8"/><line x1="497.3" y1="87.3" x2="499.9" y2="87.3" stroke="#888" stroke-width="0.8"/><line x1="302.5" y1="77.9" x2="308.5" y2="77.9" stroke="#888" stroke-width="0.8"/><line x1="497.3" y1="77.9" x2="503.3" y2="77.9" stroke="#888" stroke-width="0.8"/><line x1="305.9" y1="68.5" x2="308.5" y2="68.5" stroke="#888" stroke-width="0.8"/><line x1="497.3" y1="68.5" x2="499.9" y2="68.5" stroke="#888" stroke-width="0.8"/><line x1="305.9" y1="59.1" x2="308.5" y2="59.1" stroke="#888" stroke-width="0.8"/><line x1="497.3" y1="59.1" x2="499.9" y2="59.1" stroke="#888" stroke-width="0.8"/><line x1="305.9" y1="49.6" x2="308.5" y2="49.6" stroke="#888" stroke-width="0.8"/><line x1="497.3" y1="49.6" x2="499.9" y2="49.6" stroke="#888" stroke-width="0.8"/><line x1="305.9" y1="40.2" x2="308.5" y2="40.2" stroke="#888" stroke-width="0.8"/><line x1="497.3" y1="40.2" x2="499.9" y2="40.2" stroke="#888" stroke-width="0.8"/><line x1="302.5" y1="30.8" x2="308.5" y2="30.8" stroke="#888" stroke-width="0.8"/><line x1="497.3" y1="30.8" x2="503.3" y2="30.8" stroke="#888" stroke-width="0.8"/><line x1="308.5" y1="219.2" x2="308.5" y2="225.2" stroke="#888" stroke-width="0.8"/><line x1="308.5" y1="24.8" x2="308.5" y2="30.8" stroke="#888" stroke-width="0.8"/><line x1="317.9" y1="219.2" x2="317.9" y2="221.8" stroke="#888" stroke-width="0.8"/><line x1="317.9" y1="28.2" x2="317.9" y2="30.8" stroke="#888" stroke-width="0.8"/><line x1="327.4" y1="219.2" x2="327.4" y2="221.8" stroke="#888" stroke-width="0.8"/><line x1="327.4" y1="28.2" x2="327.4" y2="30.8" stroke="#888" stroke-width="0.8"/><line x1="336.8" y1="219.2" x2="336.8" y2="221.8" stroke="#888" stroke-width="0.8"/><line x1="336.8" y1="28.2" x2="336.8" y2="30.8" stroke="#888" stroke-width="0.8"/><line x1="346.3" y1="219.2" x2="346.3" y2="221.8" stroke="#888" stroke-width="0.8"/><line x1="346.3" y1="28.2" x2="346.3" y2="30.8" stroke="#888" stroke-width="0.8"/><line x1="355.7" y1="219.2" x2="355.7" y2="225.2" stroke="#888" stroke-width="0.8"/><line x1="355.7" y1="24.8" x2="355.7" y2="30.8" stroke="#888" stroke-width="0.8"/><line x1="365.1" y1="219.2" x2="365.1" y2="221.8" stroke="#888" stroke-width="0.8"/><line x1="365.1" y1="28.2" x2="365.1" y2="30.8" stroke="#888" stroke-width="0.8"/><line x1="374.6" y1="219.2" x2="374.6" y2="221.8" stroke="#888" stroke-width="0.8"/><line x1="374.6" y1="28.2" x2="374.6" y2="30.8" stroke="#888" stroke-width="0.8"/><line x1="384.0" y1="219.2" x2="384.0" y2="221.8" stroke="#888" stroke-width="0.8"/><line x1="384.0" y1="28.2" x2="384.0" y2="30.8" stroke="#888" stroke-width="0.8"/><line x1="393.5" y1="219.2" x2="393.5" y2="221.8" stroke="#888" stroke-width="0.8"/><line x1="393.5" y1="28.2" x2="393.5" y2="30.8" stroke="#888" stroke-width="0.8"/><line x1="402.9" y1="219.2" x2="402.9" y2="225.2" stroke="#888" stroke-width="0.8"/><line x1="402.9" y1="24.8" x2="402.9" y2="30.8" stroke="#888" stroke-width="0.8"/><line x1="412.3" y1="219.2" x2="412.3" y2="221.8" stroke="#888" stroke-width="0.8"/><line x1="412.3" y1="28.2" x2="412.3" y2="30.8" stroke="#888" stroke-width="0.8"/><line x1="421.8" y1="219.2" x2="421.8" y2="221.8" stroke="#888" stroke-width="0.8"/><line x1="421.8" y1="28.2" x2="421.8" y2="30.8" stroke="#888" stroke-width="0.8"/><line x1="431.2" y1="219.2" x2="431.2" y2="221.8" stroke="#888" stroke-width="0.8"/><line x1="431.2" y1="28.2" x2="431.2" y2="30.8" stroke="#888" stroke-width="0.8"/><line x1="440.7" y1="219.2" x2="440.7" y2="221.8" stroke="#888" stroke-width="0.8"/><line x1="440.7" y1="28.2" x2="440.7" y2="30.8" stroke="#888" stroke-width="0.8"/><line x1="450.1" y1="219.2" x2="450.1" y2="225.2" stroke="#888" stroke-width="0.8"/><line x1="450.1" y1="24.8" x2="450.1" y2="30.8" stroke="#888" stroke-width="0.8"/><line x1="459.5" y1="219.2" x2="459.5" y2="221.8" stroke="#888" stroke-width="0.8"/><line x1="459.5" y1="28.2" x2="459.5" y2="30.8" stroke="#888" stroke-width="0.8"/><line x1="469.0" y1="219.2" x2="469.0" y2="221.8" stroke="#888" stroke-width="0.8"/><line x1="469.0" y1="28.2" x2="469.0" y2="30.8" stroke="#888" stroke-width="0.8"/><line x1="478.4" y1="219.2" x2="478.4" y2="221.8" stroke="#888" stroke-width="0.8"/><line x1="478.4" y1="28.2" x2="478.4" y2="30.8" stroke="#888" stroke-width="0.8"/><line x1="487.9" y1="219.2" x2="487.9" y2="221.8" stroke="#888" stroke-width="0.8"/><line x1="487.9" y1="28.2" x2="487.9" y2="30.8" stroke="#888" stroke-width="0.8"/><line x1="497.3" y1="219.2" x2="497.3" y2="225.2" stroke="#888" stroke-width="0.8"/><line x1="497.3" y1="24.8" x2="497.3" y2="30.8" stroke="#888" stroke-width="0.8"/><text x="294.8" y="36.1" font-size="8.6" fill="#222" stroke="#222" stroke-width="0.2" text-anchor="end">50°N</text><text x="294.8" y="82.8" font-size="8.6" fill="#222" stroke="#222" stroke-width="0.2" text-anchor="end">40°N</text><text x="294.8" y="129.5" font-size="8.6" fill="#222" stroke="#222" stroke-width="0.2" text-anchor="end">30°N</text><text x="294.8" y="176.2" font-size="8.6" fill="#222" stroke="#222" stroke-width="0.2" text-anchor="end">20°N</text><text x="294.8" y="222.9" font-size="8.6" fill="#222" stroke="#222" stroke-width="0.2" text-anchor="end">10°N</text><text x="309.7" y="238.9" font-size="8.6" fill="#222" stroke="#222" stroke-width="0.2" text-anchor="middle">110°E</text><text x="356.9" y="238.9" font-size="8.6" fill="#222" stroke="#222" stroke-width="0.2" text-anchor="middle">120°E</text><text x="404.1" y="238.9" font-size="8.6" fill="#222" stroke="#222" stroke-width="0.2" text-anchor="middle">130°E</text><text x="451.3" y="238.9" font-size="8.6" fill="#222" stroke="#222" stroke-width="0.2" text-anchor="middle">140°E</text><text x="498.5" y="238.9" font-size="8.6" fill="#222" stroke="#222" stroke-width="0.2" text-anchor="middle">150°E</text><rect x="507.2" y="32.50" width="11.5" height="15.70" fill="#C4001E"/><rect x="507.2" y="47.90" width="11.5" height="15.70" fill="#F81E28"/><rect x="507.2" y="63.30" width="11.5" height="15.70" fill="#FC3C3C"/><rect x="507.2" y="78.70" width="11.5" height="15.70" fill="#F8A564"/><rect x="507.2" y="94.10" width="11.5" height="15.70" fill="#FDD595"/><rect x="507.2" y="109.50" width="11.5" height="15.70" fill="#FFFBE2"/><rect x="507.2" y="124.90" width="11.5" height="15.70" fill="#DDF7FE"/><rect x="507.2" y="140.30" width="11.5" height="15.70" fill="#72DBF6"/><rect x="507.2" y="155.70" width="11.5" height="15.70" fill="#22C5F2"/><rect x="507.2" y="171.10" width="11.5" height="15.70" fill="#0A8AF8"/><rect x="507.2" y="186.50" width="11.5" height="15.70" fill="#0A4AF8"/><rect x="507.2" y="201.90" width="11.5" height="15.70" fill="#2400D0"/><text x="529" y="50.9" font-size="8.4" fill="#111" stroke="#111" stroke-width="0.12" text-anchor="middle">2.5</text><text x="529" y="66.3" font-size="8.4" fill="#111" stroke="#111" stroke-width="0.12" text-anchor="middle">2</text><text x="529" y="81.7" font-size="8.4" fill="#111" stroke="#111" stroke-width="0.12" text-anchor="middle">1.5</text><text x="529" y="97.1" font-size="8.4" fill="#111" stroke="#111" stroke-width="0.12" text-anchor="middle">1</text><text x="529" y="112.5" font-size="8.4" fill="#111" stroke="#111" stroke-width="0.12" text-anchor="middle">0.5</text><text x="529" y="127.9" font-size="8.4" fill="#111" stroke="#111" stroke-width="0.12" text-anchor="middle">0</text><text x="529" y="143.3" font-size="8.4" fill="#111" stroke="#111" stroke-width="0.12" text-anchor="middle">-0.5</text><text x="529" y="158.7" font-size="8.4" fill="#111" stroke="#111" stroke-width="0.12" text-anchor="middle">-1</text><text x="529" y="174.1" font-size="8.4" fill="#111" stroke="#111" stroke-width="0.12" text-anchor="middle">-1.5</text><text x="529" y="189.5" font-size="8.4" fill="#111" stroke="#111" stroke-width="0.12" text-anchor="middle">-2</text><text x="529" y="204.9" font-size="8.4" fill="#111" stroke="#111" stroke-width="0.12" text-anchor="middle">-2.5</text><text x="526.6" y="35.3" font-size="7.2" fill="#222" font-family="Liberation Serif, serif">(°C)</text>
</svg>
</body></html>
